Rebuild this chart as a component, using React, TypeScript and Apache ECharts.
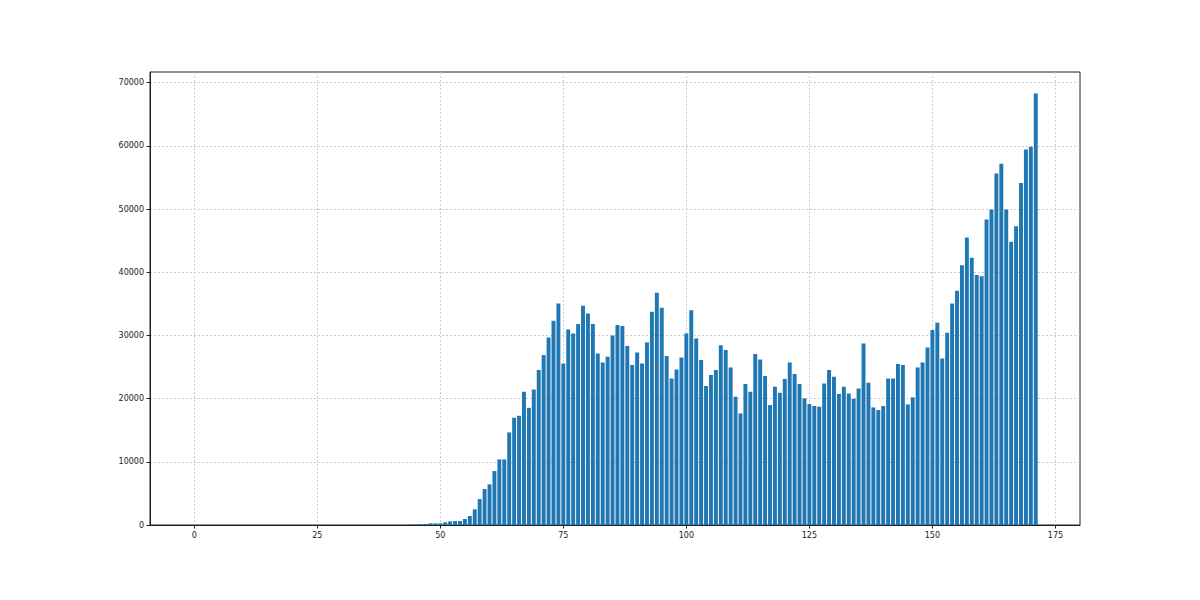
import React, { useEffect, useRef } from "react";
import * as echarts from "echarts";

// Bar heights for x = 0 .. 171
const values: number[] = [
  0, 0, 0, 0, 0, 0, 0, 0, 0, 0,
  0, 0, 0, 0, 0, 0, 0, 0, 0, 0,
  0, 0, 0, 0, 0, 0, 0, 0, 0, 0,
  0, 0, 0, 0, 0, 0, 0, 0, 0, 0,
  0, 0, 0, 0, 100, 100, 150, 150, 260, 260,
  260, 420, 580, 630, 630, 950, 1420, 2480, 4110, 5690,
  6430, 8540, 10380, 10380, 14650, 16970, 17290, 21080, 18550, 21450,
  24520, 26890, 29690, 32320, 35070, 25570, 30950, 30320, 31800, 34700,
  33480, 31800, 27160, 25730, 26630, 30000, 31640, 31480, 28320, 25310,
  27310, 25570, 28900, 33750, 36750, 34380, 26730, 23200, 24630, 26520,
  30320, 34010, 29530, 26100, 21990, 23730, 24520, 28470, 27680, 24940,
  20300, 17660, 22300, 21090, 27050, 26210, 23570, 18980, 21880, 20930,
  23100, 25730, 23890, 22300, 20040, 19140, 18830, 18720, 22410, 24520,
  23470, 20720, 21880, 20830, 19980, 21620, 28740, 22520, 18610, 18190,
  18830, 23200, 23200, 25470, 25310, 19090, 20200, 24940, 25730, 28110,
  30850, 32010, 26370, 30430, 35070, 37070, 41130, 45510, 42290, 39550,
  39390, 48350, 49940, 55630, 57160, 49940, 44820, 47300, 54150, 59430,
  59850, 68290,
];

const xTicks: number[] = [0, 25, 50, 75, 100, 125, 150, 175];
const yTicks: number[] = [0, 10000, 20000, 30000, 40000, 50000, 60000, 70000];

const BAR_WIDTH = 0.8;
const X_MIN = -8.99;
const X_MAX = 179.99;
const Y_MAX = 71700;

export default function App() {
  const ref = useRef<HTMLDivElement>(null);

  useEffect(() => {
    if (!ref.current) return;
    const chart = echarts.init(ref.current, undefined, { renderer: "svg" });
    const data = values.map((v, i) => [i, v]);
    const font = "DejaVu Sans";
    const gridLine = { color: "#c0c0c0", type: [2, 2], width: 0.8 };
    chart.setOption({
      animation: false,
      backgroundColor: "#ffffff",
      grid: {
        left: 150,
        right: 120,
        top: 72,
        bottom: 75,
        show: true,
        borderColor: "#222",
        borderWidth: 1,
        backgroundColor: "transparent",
      },
      xAxis: {
        type: "value",
        min: X_MIN,
        max: X_MAX,
        axisLine: { show: true, onZero: false, lineStyle: { color: "#222", width: 1 } },
        axisTick: {
          show: true,
          length: 3.5,
          inside: false,
          customValues: xTicks,
          lineStyle: { color: "#222", width: 1 },
        },
        axisLabel: {
          show: true,
          customValues: xTicks,
          margin: 6,
          color: "#222",
          fontSize: 8,
          fontFamily: font,
          formatter: (v: number) => String(v),
        },
        splitLine: { show: true, lineStyle: gridLine },
      },
      yAxis: {
        type: "value",
        min: 0,
        max: Y_MAX,
        axisLine: { show: true, onZero: false, lineStyle: { color: "#222", width: 1 } },
        axisTick: {
          show: true,
          length: 3.5,
          inside: false,
          customValues: yTicks,
          lineStyle: { color: "#222", width: 1 },
        },
        axisLabel: {
          show: true,
          customValues: yTicks,
          margin: 6,
          color: "#222",
          fontSize: 8,
          fontFamily: font,
          formatter: (v: number) => String(v),
        },
        splitLine: { show: true, lineStyle: gridLine },
      },
      series: [
        {
          type: "custom",
          data,
          encode: { x: 0, y: 1 },
          renderItem: (params: any, api: any) => {
            const x = api.value(0);
            const y = api.value(1);
            const p0 = api.coord([x - BAR_WIDTH / 2, y]);
            const p1 = api.coord([x + BAR_WIDTH / 2, 0]);
            return {
              type: "rect",
              shape: {
                x: p0[0],
                y: p0[1],
                width: p1[0] - p0[0],
                height: p1[1] - p0[1],
              },
              style: { fill: "#1f77b4" },
            };
          },
        },
      ],
    });
    return () => chart.dispose();
  }, []);

  return (
    <div
      ref={ref}
      style={{ position: "fixed", left: 0, top: 0, width: 1200, height: 600 }}
    />
  );
}
